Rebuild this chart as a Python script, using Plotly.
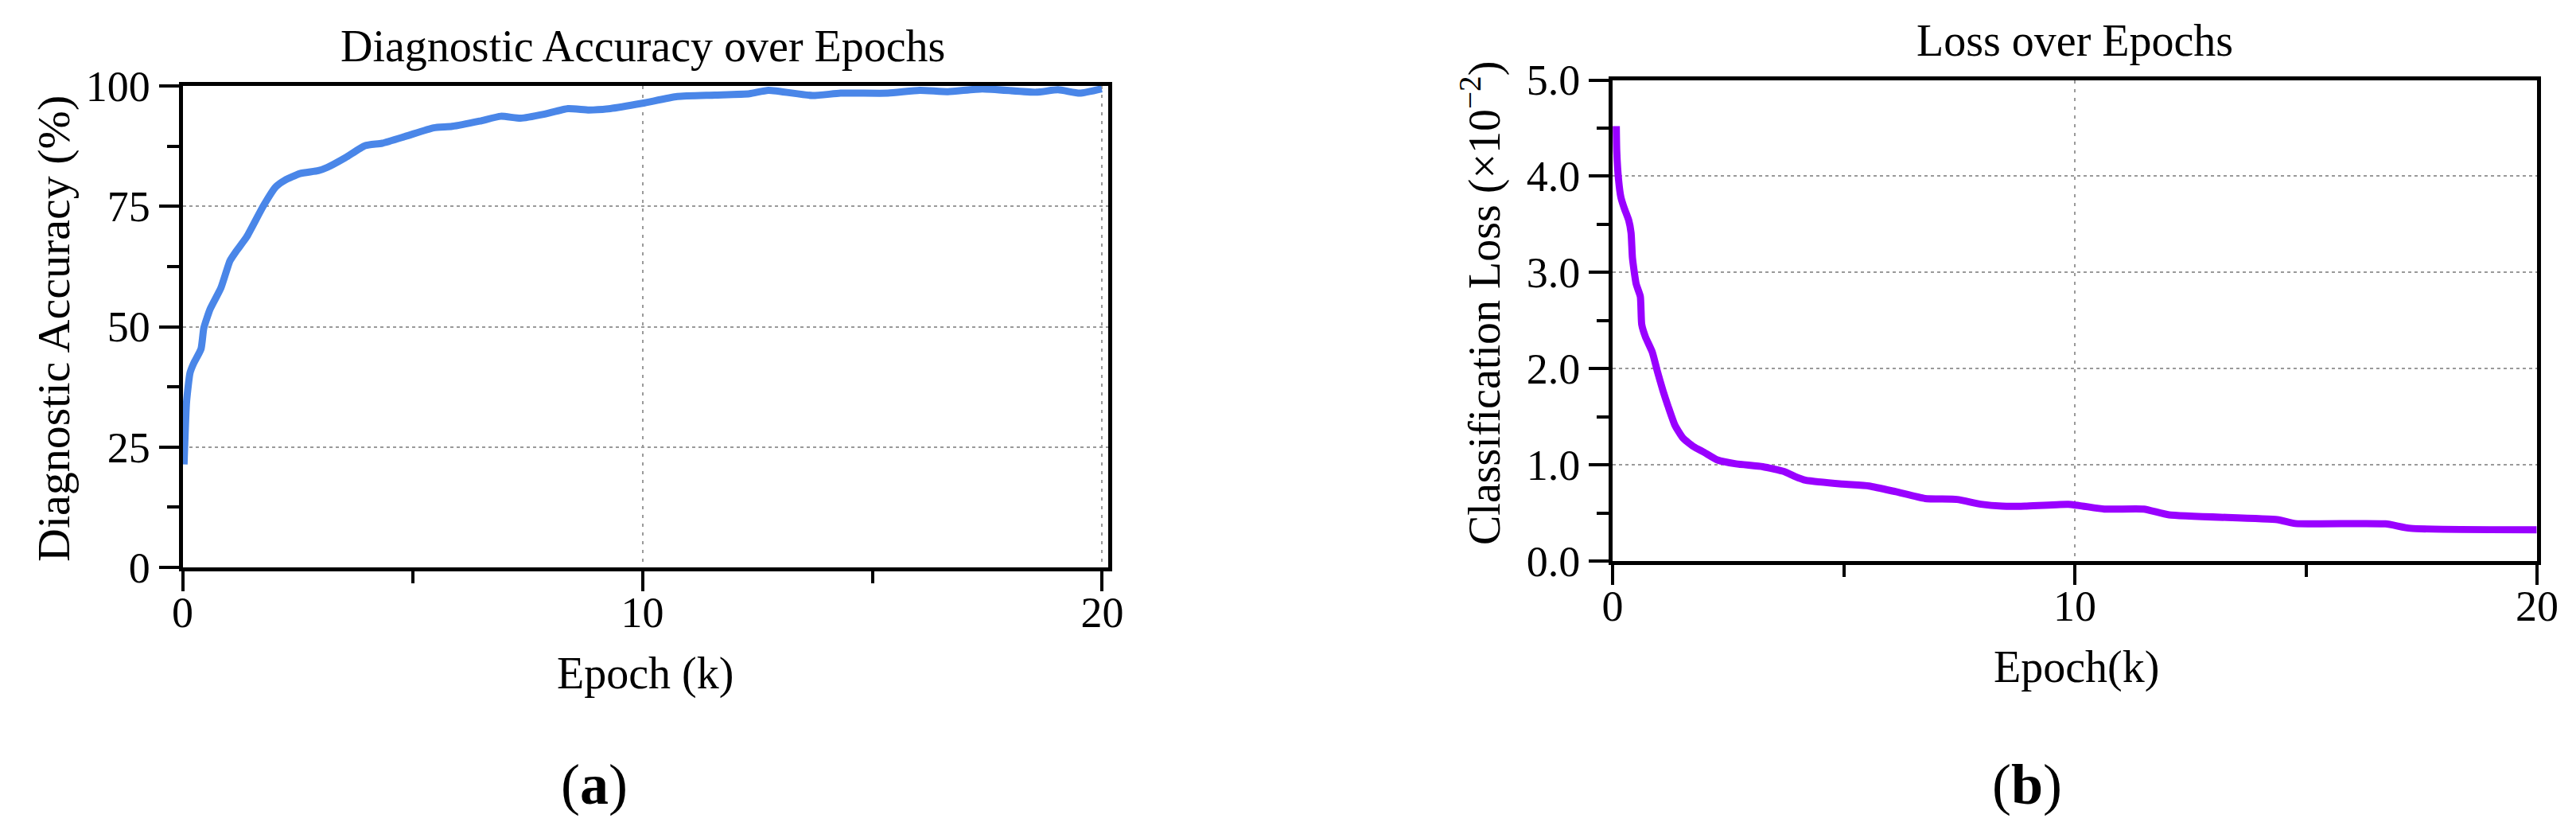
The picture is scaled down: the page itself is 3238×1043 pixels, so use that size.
import plotly.graph_objects as go
from plotly.subplots import make_subplots

# accuracy curve (epoch in thousands, accuracy in %)
acc_epoch = [0.03, 0.085, 0.16, 0.24, 0.40, 0.46, 0.60, 0.83, 1.03, 1.16, 1.39, 1.75, 2.02, 2.22,
             2.55, 2.95, 3.15, 3.54, 3.97, 4.34, 4.87, 5.46, 5.86, 6.46, 6.92, 7.35, 7.85, 8.38,
             8.84, 9.30, 10.0, 10.76, 11.58, 12.33, 12.74, 13.70, 14.31, 15.34, 16.03, 16.64,
             17.39, 18.56, 19.04, 19.51, 19.99]
acc = [21.4, 34.4, 40.4, 42.4, 45.4, 49.7, 53.7, 58.0, 63.7, 65.6, 68.6, 75.0, 79.0, 80.4,
       81.8, 82.4, 83.1, 85.1, 87.6, 88.1, 89.6, 91.3, 91.6, 92.7, 93.7, 93.3, 94.1, 95.3,
       95.0, 95.3, 96.4, 97.8, 98.1, 98.4, 99.1, 98.0, 98.5, 98.5, 99.1, 98.8,
       99.4, 98.7, 99.2, 98.5, 99.4]

# loss curve (x 10^-2)
loss_epoch = [0.08, 0.09, 0.13, 0.18, 0.25, 0.35, 0.40, 0.43, 0.51, 0.60, 0.63, 0.71, 0.86, 0.97,
              1.09, 1.20, 1.35, 1.52, 1.75, 1.98, 2.27, 2.67, 3.25, 3.71, 3.94, 4.17, 4.97, 5.55,
              6.13, 6.76, 7.45, 7.97, 8.43, 8.92, 9.86, 10.64, 11.49, 12.04, 14.38, 14.77, 16.72,
              17.26, 19.99]
loss = [4.52, 4.26, 3.96, 3.78, 3.67, 3.54, 3.41, 3.15, 2.88, 2.75, 2.46, 2.33, 2.17, 1.97,
        1.77, 1.61, 1.41, 1.28, 1.19, 1.13, 1.05, 1.01, 0.98, 0.93, 0.88, 0.84, 0.80, 0.78,
        0.72, 0.65, 0.64, 0.59, 0.57, 0.57, 0.59, 0.54, 0.54, 0.48, 0.43, 0.39, 0.386,
        0.34, 0.325]

acc_ticks = [0, 25, 50, 75, 100]
loss_ticks = [0.0, 1.0, 2.0, 3.0, 4.0, 5.0]
epoch_ticks = [0, 10, 20]

W, H = 3238, 1043
FONT = "Liberation Serif, Times New Roman, serif"

def px(x):
    return x / W

def py(y):
    return 1 - y / H

fig = make_subplots(rows=1, cols=2)

fig.add_trace(go.Scatter(x=acc_epoch, y=acc, mode="lines",
                         line=dict(color="#4A86E8", width=9, shape="spline", smoothing=0.5)),
              row=1, col=1)
fig.add_trace(go.Scatter(x=loss_epoch, y=loss, mode="lines",
                         line=dict(color="#9900FF", width=9, shape="spline", smoothing=0.5)),
              row=1, col=2)

axis_common = dict(showline=True, linecolor="black", linewidth=5, mirror=True,
                   ticks="outside", ticklen=25, tickwidth=4, tickcolor="black",
                   tickfont=dict(family=FONT, size=54, color="black"),
                   showgrid=True, gridcolor="#9a9a9a", gridwidth=2,
                   zeroline=False, automargin=False)

fig.update_xaxes(axis_common, griddash="4px,7px", ticklabelstandoff=-20)
fig.update_yaxes(axis_common, griddash="4px,4px")

fig.update_xaxes(domain=[px(229.6), px(1393)], range=[0, 20.13],
                 tickvals=epoch_ticks,
                 minor=dict(dtick=5, tick0=0, ticks="outside", ticklen=15, tickwidth=4,
                            tickcolor="black", showgrid=False),
                 row=1, col=1)
fig.update_xaxes(domain=[px(2027), px(3189)], range=[0, 20],
                 tickvals=epoch_ticks,
                 minor=dict(dtick=5, tick0=0, ticks="outside", ticklen=15, tickwidth=4,
                            tickcolor="black", showgrid=False),
                 row=1, col=2)
fig.update_yaxes(domain=[py(713), py(108)], range=[0, 100],
                 tickvals=acc_ticks,
                 minor=dict(dtick=12.5, tick0=0, ticks="outside", ticklen=15, tickwidth=4,
                            tickcolor="black", showgrid=False),
                 row=1, col=1)
fig.update_yaxes(domain=[py(705), py(100.5)], range=[0, 5],
                 tickvals=loss_ticks, tickformat=".1f",
                 minor=dict(dtick=0.5, tick0=0, ticks="outside", ticklen=15, tickwidth=4,
                            tickcolor="black", showgrid=False),
                 row=1, col=2)

def label(text, x, y, size, angle=0):
    fig.add_annotation(text=text, x=px(x), y=py(y), xref="paper", yref="paper",
                       xanchor="center", yanchor="middle", showarrow=False, textangle=angle,
                       font=dict(family=FONT, size=size, color="black"))

label("Diagnostic Accuracy over Epochs", 808, 58, 56)
label("Loss over Epochs", 2608, 51, 56)
label("Epoch (k)", 811, 846, 56)
label("Epoch(k)", 2610, 838, 56)
label("Diagnostic Accuracy (%)", 67, 413, 58, -90)
label("Classification Loss (×10<sup>−2</sup>)", 1862, 381, 56, -90)
label("(<b>a</b>)", 747, 986, 72)
label("(<b>b</b>)", 2548, 986, 72)

fig.update_layout(width=W, height=H, margin=dict(l=0, r=0, t=0, b=0),
                  paper_bgcolor="white", plot_bgcolor="white", showlegend=False)

# drop the default page margin so the figure sits at the window's top-left corner
fig.write_html("out.html", config={"displayModeBar": False},
               post_script="document.body.style.margin='0';")
